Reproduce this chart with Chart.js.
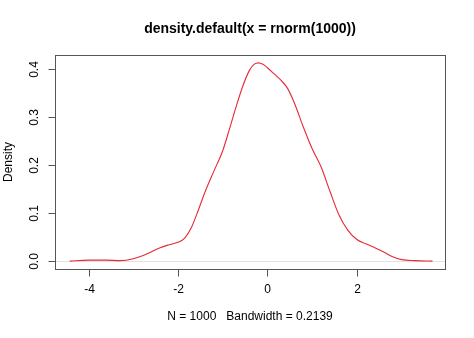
<!DOCTYPE html>
<html>
<head>
<meta charset="utf-8">
<script src="https://cdn.jsdelivr.net/npm/chart.js@4"></script>
<style>
html,body{margin:0;padding:0;background:#fff;}
canvas{display:block;}
</style>
</head>
<body>
<canvas id="c" width="474" height="338"></canvas>
<script>
const chartTitle = "density.default(x = rnorm(1000))";
const xAxisTitle = "N = 1000   Bandwidth = 0.2139";
const yAxisTitle = "Density";
const xTickValues = [-4, -2, 0, 2];
const yTickValues = [0, 0.1, 0.2, 0.3, 0.4];
const xValues = [-4.42, -4.0, -3.6, -3.3, -3.0, -2.7, -2.4, -2.2, -2.0, -1.85, -1.7, -1.55, -1.4, -1.2, -1.0, -0.85, -0.7, -0.55, -0.4, -0.3, -0.2, -0.1, 0.0, 0.15, 0.3, 0.45, 0.6, 0.8, 1.0, 1.2, 1.4, 1.6, 1.8, 2.0, 2.2, 2.4, 2.6, 2.8, 3.0, 3.3, 3.69];
const densityValues = [0.000, 0.002, 0.002, 0.001, 0.005, 0.015, 0.028, 0.034, 0.039, 0.048, 0.070, 0.105, 0.143, 0.187, 0.230, 0.275, 0.322, 0.365, 0.398, 0.410, 0.413, 0.410, 0.403, 0.390, 0.377, 0.360, 0.330, 0.280, 0.234, 0.196, 0.145, 0.096, 0.064, 0.045, 0.036, 0.028, 0.019, 0.009, 0.003, 0.001, 0.000];

const points = xValues.map((x, i) => ({x: x, y: densityValues[i]}));
const FONT = '"Liberation Sans", Arial, Helvetica, sans-serif';

const rPlot = {
  id: 'rPlot',
  beforeDatasetsDraw(chart) {
    const ctx = chart.ctx, a = chart.chartArea;
    const ys = chart.scales.y;
    const y0 = Math.round(ys.getPixelForValue(0)) + 0.5;
    ctx.save();
    ctx.strokeStyle = '#e3e3e3';
    ctx.lineWidth = 1;
    ctx.beginPath();
    ctx.moveTo(a.left, y0); ctx.lineTo(a.right, y0);
    ctx.stroke();
    ctx.restore();
  },
  afterDraw(chart) {
    const ctx = chart.ctx, a = chart.chartArea;
    const xs = chart.scales.x, ys = chart.scales.y;
    ctx.save();
    ctx.strokeStyle = '#555';
    ctx.lineWidth = 1;
    const L = Math.round(a.left) + 0.5, R = Math.round(a.right) + 0.5;
    const T = Math.round(a.top) + 0.5, B = Math.round(a.bottom) + 0.5;
    ctx.strokeRect(L, T, R - L, B - T);
    ctx.fillStyle = '#000';
    ctx.font = '12px ' + FONT;
    // x ticks
    ctx.textAlign = 'center';
    ctx.textBaseline = 'middle';
    xTickValues.forEach(v => {
      const px = Math.round(xs.getPixelForValue(v)) + 0.5;
      ctx.beginPath(); ctx.moveTo(px, B); ctx.lineTo(px, B + 7); ctx.stroke();
      ctx.fillText(String(v), px, 290);
    });
    // y ticks
    yTickValues.forEach(v => {
      const py = Math.round(ys.getPixelForValue(v)) + 0.5;
      ctx.beginPath(); ctx.moveTo(L, py); ctx.lineTo(L - 7, py); ctx.stroke();
      ctx.save();
      ctx.translate(35, py);
      ctx.rotate(-Math.PI / 2);
      ctx.fillText(v.toFixed(1), 0, 0);
      ctx.restore();
    });
    // axis titles
    ctx.fillText(xAxisTitle, (a.left + a.right) / 2, 317);
    ctx.save();
    ctx.translate(9, (a.top + a.bottom) / 2);
    ctx.rotate(-Math.PI / 2);
    ctx.fillText(yAxisTitle, 0, 0);
    ctx.restore();
    // main title
    ctx.font = 'bold 14px ' + FONT;
    ctx.fillText(chartTitle, (a.left + a.right) / 2, 29);
    ctx.restore();
  }
};

new Chart(document.getElementById('c'), {
  type: 'line',
  data: {
    datasets: [{
      data: points,
      borderColor: 'rgb(232,40,52)',
      borderWidth: 1.1,
      pointRadius: 0,
      fill: false,
      cubicInterpolationMode: 'monotone'
    }]
  },
  options: {
    responsive: false,
    animation: false,
    layout: { padding: { left: 55, top: 55, right: 29, bottom: 69 } },
    plugins: { legend: { display: false }, tooltip: { enabled: false } },
    scales: {
      x: { type: 'linear', min: -4.75, max: 3.97, display: false },
      y: { type: 'linear', min: -0.0165, max: 0.4295, display: false }
    }
  },
  plugins: [rPlot]
});
</script>
</body>
</html>
